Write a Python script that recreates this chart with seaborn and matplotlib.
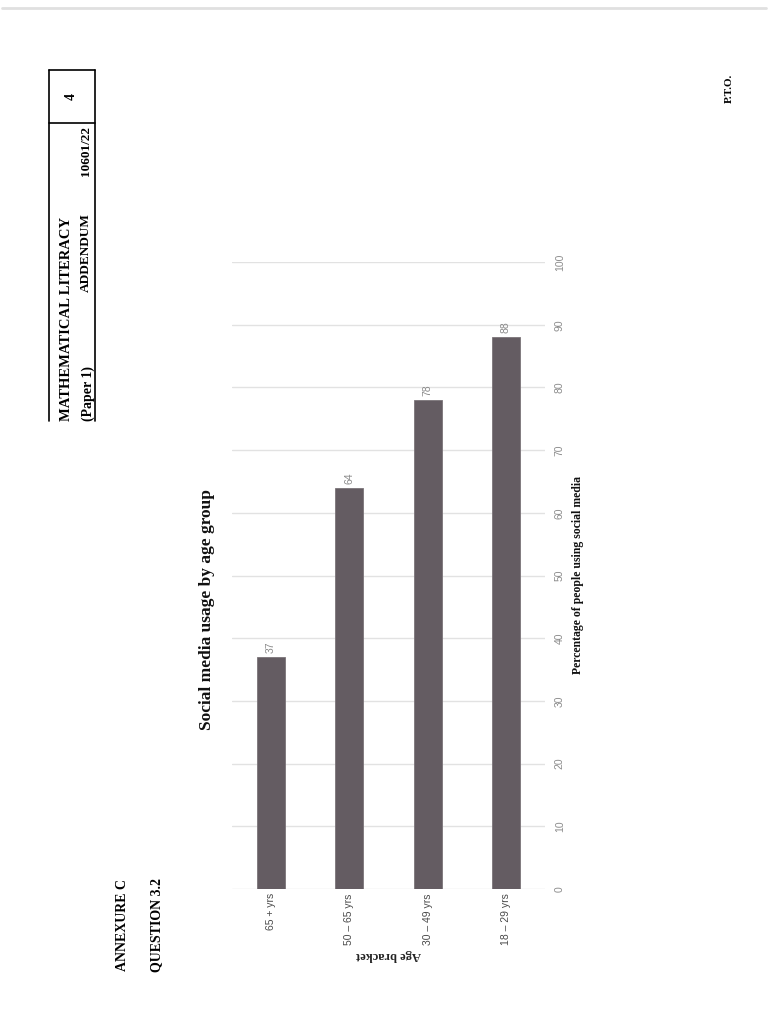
import matplotlib.pyplot as plt
import matplotlib.font_manager as fm
from matplotlib.lines import Line2D
import seaborn as sns
from pandas import DataFrame

# chart data
age_groups = ['65 + yrs', '50 – 65 yrs', '30 – 49 yrs', '18 – 29 yrs']
percentages = [37, 64, 78, 88]
value_ticks = list(range(0, 101, 10))

bar_color = '#645c62'
serif = ['Liberation Serif', 'DejaVu Serif']
installed = {f.name for f in fm.fontManager.ttflist}
narrow = 'Liberation Sans Narrow' if 'Liberation Sans Narrow' in installed else 'Liberation Sans'

sns.set_style('white')
plt.rcParams['font.family'] = [narrow, 'DejaVu Sans']

W, H = 768, 1024
fig = plt.figure(figsize=(W / 100, H / 100), dpi=100)


def fx(px):
    return px / W


def fy(py):
    return 1 - py / H


# the page is scanned sideways, so the bar chart sits rotated on it
ax = fig.add_axes([fx(232), fy(889), fx(545) - fx(232), fy(262) - fy(889)])
df = DataFrame({'age': age_groups, 'pct': percentages})
sns.barplot(df, x='age', y='pct', color=bar_color, saturation=1, width=0.36,
            edgecolor='#7b7479', linewidth=0.6, ax=ax)

ax.set_ylim(0, 100)
ax.set_xlim(-0.5, len(age_groups) - 0.5)
ax.set_yticks(value_ticks)
ax.yaxis.tick_right()
ax.grid(axis='y', color='#e2e2e2', linewidth=1)
ax.set_axisbelow(True)
for s in ax.spines.values():
    s.set_visible(False)

ax.tick_params(axis='y', length=0, pad=7, labelsize=7.5, labelcolor='#8c8c8c', labelrotation=90)
for lbl in ax.get_yticklabels():
    lbl.set_va('center')
ax.tick_params(axis='x', length=0, pad=3, labelsize=7.5, labelcolor='#4a4a4a', labelrotation=90)

ax.bar_label(ax.containers[0], rotation=90, padding=3, fontsize=7.5, color='#8a8a8a')

ax.set_ylabel('Percentage of people using social media', family=serif, fontweight='bold',
              fontsize=8.5, color='#111111')
ax.yaxis.set_label_position('right')
ax.yaxis.set_label_coords((578 - 232) / 313, 0.5)
ax.yaxis.label.set(rotation=90, va='center', ha='center')

ax.set_xlabel('Age bracket', family=serif, fontweight='bold', fontsize=9, color='#222222')
ax.xaxis.set_label_coords(0.5, -(955 - 889) / 627)
ax.xaxis.label.set(rotation=180, va='center', ha='center')

ax.text((207 - 232) / 313, (889 - 610) / 627, 'Social media usage by age group', transform=ax.transAxes,
        rotation=90, ha='center', va='center', family=serif, fontweight='bold', fontsize=12.5,
        color='#111111')

# page furniture around the chart
fig.add_artist(Line2D([fx(2), fx(766)], [fy(8), fy(8)], color='#e0e0e0', linewidth=2))

box = dict(color='black', linewidth=1.2)
fig.add_artist(Line2D([fx(49), fx(95)], [fy(70), fy(70)], **box))
fig.add_artist(Line2D([fx(49), fx(49)], [fy(70), fy(421)], **box))
fig.add_artist(Line2D([fx(95), fx(95)], [fy(70), fy(421)], **box))
fig.add_artist(Line2D([fx(49), fx(95)], [fy(123), fy(123)], **box))

page_txt = dict(rotation=90, ha='center', family=serif, fontweight='bold', color='black')
fig.text(fx(71), fy(97), '4', va='center', fontsize=10, **page_txt)
fig.text(fx(86), fy(176), '10601/22', va='bottom', fontsize=9.5, **page_txt)
fig.text(fx(86), fy(292), 'ADDENDUM', va='bottom', fontsize=9.5, **page_txt)
fig.text(fx(88), fy(421), '(Paper 1)', va='bottom', fontsize=10, **page_txt)
fig.text(fx(67), fy(421), 'MATHEMATICAL LITERACY', va='bottom', fontsize=10.5, **page_txt)
fig.text(fx(122), fy(971), 'ANNEXURE C', va='bottom', fontsize=10, **page_txt)
fig.text(fx(157), fy(972), 'QUESTION 3.2', va='bottom', fontsize=10, **page_txt)
fig.text(fx(729), fy(103), 'P.T.O.', va='bottom', fontsize=8, **page_txt)

fig.savefig('out.png', dpi=100, facecolor='white')
